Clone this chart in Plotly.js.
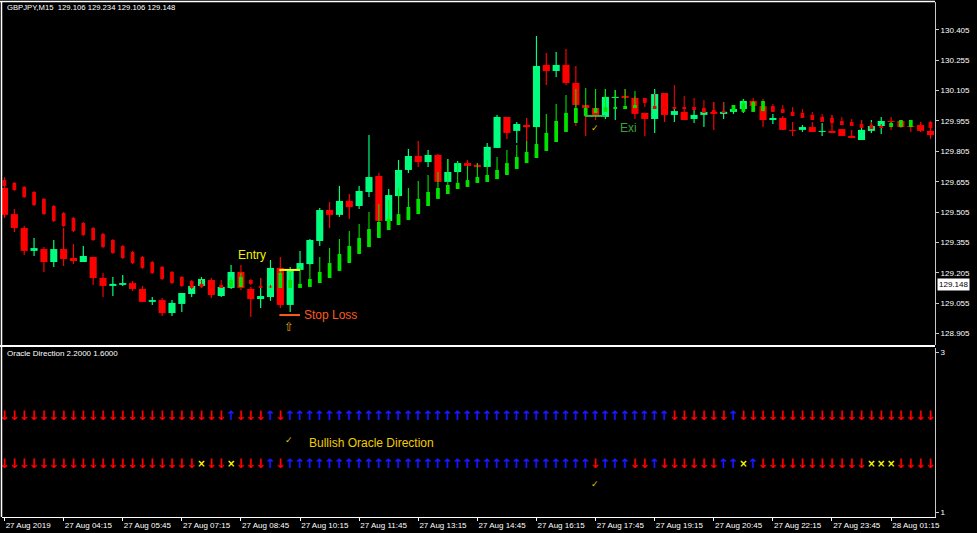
<!DOCTYPE html>
<html><head><meta charset="utf-8">
<script src="https://cdn.plot.ly/plotly-3.0.1.min.js"></script>
<style>html,body{margin:0;padding:0;background:#000;overflow:hidden}#chart{width:977px;height:533px}</style>
</head><body><div id="chart"></div>
<script>
// ---- GBPJPY M15 candles (bar index 0 = 27 Aug 02:45) ----
const open = [
129.624,129.495,129.426,129.313,129.322,129.258,129.322,129.278,129.258,129.283,
129.179,129.140,129.145,129.154,129.125,129.061,129.070,129.006,129.051,129.100,
129.140,129.169,129.090,129.130,129.209,129.125,129.075,129.085,129.229,129.046,
129.219,129.248,129.362,129.515,129.491,129.560,129.535,129.604,129.683,129.461,
129.584,129.713,129.782,129.752,129.787,129.654,129.703,129.747,129.738,129.728,
129.822,129.975,129.906,129.935,129.925,130.232,130.202,130.232,130.143,130.034,
130.019,129.975,130.069,130.079,130.069,129.995,129.965,130.093,129.985,130.000,
129.965,129.985,130.000,129.990,130.000,130.014,130.054,130.029,129.960,129.970,
129.911,129.911,129.925,129.901,129.906,129.915,129.881,129.861,129.906,129.930,
129.955,129.955,129.930,129.935,129.906];
const high = [
129.639,129.520,129.436,129.377,129.332,129.367,129.426,129.347,129.337,129.283,
129.204,129.184,129.194,129.164,129.140,129.085,129.080,129.070,129.105,129.164,
129.184,129.179,129.140,129.243,129.243,129.135,129.179,129.268,129.283,129.234,
129.313,129.372,129.525,129.555,129.634,129.594,129.634,129.886,129.698,129.619,
129.762,129.817,129.856,129.812,129.792,129.767,129.757,129.762,129.747,129.846,
129.985,129.975,129.950,129.970,130.375,130.291,130.296,130.311,130.227,130.034,
130.019,130.113,130.108,130.113,130.079,129.995,130.113,130.093,130.024,130.024,
130.019,130.014,130.049,130.049,130.029,130.064,130.069,130.064,129.990,129.980,
129.950,129.935,129.950,129.945,129.985,129.915,129.911,129.960,129.960,129.975,
129.975,129.960,129.960,129.950,129.955];
const low = [
129.476,129.407,129.293,129.288,129.209,129.234,129.238,129.248,129.258,129.145,
129.085,129.090,129.140,129.115,129.061,129.046,128.991,128.991,129.011,129.085,
129.130,129.080,129.085,129.125,129.120,128.986,129.031,129.066,129.031,129.011,
129.219,129.243,129.337,129.426,129.481,129.471,129.520,129.579,129.461,129.456,
129.579,129.698,129.728,129.728,129.654,129.654,129.698,129.713,129.723,129.728,
129.822,129.866,129.846,129.812,129.772,130.133,130.172,130.133,129.930,129.881,
129.960,129.965,129.960,130.064,129.965,129.881,129.896,129.950,129.950,129.960,
129.945,129.925,129.911,129.965,129.990,129.995,130.000,129.925,129.940,129.911,
129.881,129.901,129.901,129.881,129.896,129.881,129.871,129.861,129.896,129.891,
129.911,129.920,129.901,129.901,129.866];
const close = [
129.491,129.426,129.313,129.327,129.258,129.322,129.273,129.263,129.288,129.179,
129.140,129.150,129.154,129.125,129.061,129.070,129.006,129.056,129.105,129.140,
129.174,129.095,129.135,129.209,129.130,129.075,129.090,129.229,129.046,129.219,
129.253,129.367,129.515,129.491,129.560,129.530,129.609,129.678,129.461,129.589,
129.713,129.782,129.752,129.787,129.654,129.703,129.747,129.733,129.728,129.827,
129.975,129.896,129.940,129.925,130.227,130.202,130.232,130.143,130.034,130.019,
129.985,130.074,130.074,130.069,129.990,129.965,130.088,129.985,130.004,129.960,
129.985,130.000,129.990,130.000,130.014,130.054,130.029,129.960,129.970,129.911,
129.906,129.925,129.901,129.906,129.896,129.881,129.871,129.911,129.930,129.955,
129.950,129.925,129.925,129.906,129.886];

// ---- smoothed Heiken Ashi overlay ----
const haOpen = [
129.663,129.649,129.629,129.604,129.570,129.535,129.500,129.476,129.451,129.426,
129.397,129.367,129.337,129.308,129.283,129.258,129.234,129.209,129.184,129.164,
129.150,129.145,129.145,129.135,129.135,129.169,129.140,129.137,129.130,129.130,
129.130,129.135,129.154,129.179,129.214,129.253,129.298,129.332,129.377,129.416,
129.441,129.466,129.495,129.535,129.570,129.594,129.619,129.629,129.649,129.654,
129.668,129.688,129.718,129.747,129.772,129.807,129.851,129.901,129.945,129.980,
129.995,130.000,130.014,130.014,130.019,130.069,130.029,130.029,130.024,130.024,
130.024,130.019,130.009,130.004,130.004,130.000,130.000,130.004,130.029,130.014,
130.000,129.995,129.985,129.975,129.970,129.955,129.950,129.940,129.935,129.930,
129.925,129.925,129.925,129.935,129.950];
const haHigh = [
129.678,129.654,129.634,129.609,129.575,129.540,129.505,129.481,129.456,129.431,
129.402,129.372,129.342,129.313,129.288,129.263,129.238,129.214,129.189,129.169,
129.169,129.159,129.169,129.184,129.204,129.174,129.179,129.145,129.219,129.209,
129.234,129.243,129.283,129.327,129.372,129.411,129.446,129.505,129.545,129.565,
129.624,129.624,129.658,129.688,129.703,129.767,129.747,129.733,129.747,129.762,
129.777,129.812,129.836,129.856,129.925,129.990,130.039,130.083,130.113,130.118,
130.113,130.113,130.108,130.113,130.103,130.069,130.088,130.093,130.133,130.079,
130.069,130.059,130.049,130.049,130.034,130.059,130.054,130.054,130.039,130.034,
130.024,130.014,130.000,129.990,129.985,129.975,129.965,129.960,129.950,129.940,
129.950,129.960,129.960,129.950,129.955];
const haLow = [
129.624,129.609,129.575,129.535,129.491,129.456,129.431,129.407,129.387,129.362,
129.327,129.298,129.273,129.248,129.224,129.199,129.169,129.150,129.135,129.125,
129.130,129.125,129.130,129.135,129.135,129.145,129.130,129.130,129.130,129.130,
129.130,129.135,129.154,129.179,129.214,129.253,129.298,129.332,129.377,129.416,
129.441,129.466,129.495,129.535,129.570,129.594,129.619,129.629,129.649,129.654,
129.668,129.688,129.718,129.747,129.772,129.807,129.851,129.901,129.945,129.980,
129.995,130.000,130.014,130.014,130.019,130.024,130.014,130.014,130.014,130.014,
130.009,129.995,129.995,129.995,130.004,130.000,130.000,130.004,130.000,129.995,
129.980,129.970,129.960,129.950,129.945,129.935,129.930,129.920,129.915,129.920,
129.925,129.925,129.925,129.920,129.920];
const haClose = [
129.634,129.614,129.579,129.540,129.495,129.461,129.436,129.411,129.392,129.367,
129.332,129.303,129.278,129.253,129.229,129.204,129.174,129.154,129.140,129.130,
129.135,129.130,129.130,129.169,129.184,129.150,129.130,129.133,129.204,129.169,
129.150,129.174,129.209,129.253,129.298,129.337,129.377,129.421,129.456,129.471,
129.495,129.530,129.570,129.604,129.624,129.639,129.649,129.663,129.678,129.688,
129.713,129.747,129.777,129.802,129.841,129.896,129.955,129.995,130.019,130.019,
130.019,130.024,130.024,130.029,130.034,130.044,130.014,130.014,130.014,130.014,
130.009,129.995,129.995,129.995,130.034,130.044,130.049,130.054,130.000,129.995,
129.980,129.970,129.960,129.950,129.945,129.935,129.930,129.920,129.915,129.920,
129.945,129.960,129.960,129.920,129.920];

// ---- Oracle Direction indicator (U = up, D = down, X = neutral) ----
const oracleFast = [
'D','D','D','D','D','D','D','D','D','D',
'D','D','D','D','D','D','D','D','D','D',
'D','D','D','U','D','D','D','U','D','U',
'U','U','U','U','U','U','U','U','U','U',
'U','U','U','U','U','U','U','U','U','U',
'U','U','U','U','U','U','U','U','U','U',
'U','U','U','U','U','U','U','U','D','D',
'D','D','D','D','U','D','D','D','D','D',
'D','D','D','D','D','D','D','D','D','D',
'D','D','D','D','D'];
const oracleSlow = [
'D','D','D','D','D','D','D','D','D','D',
'D','D','D','D','D','D','D','D','D','D',
'X','D','D','X','D','D','D','U','D','U',
'U','U','U','U','U','U','U','U','U','U',
'U','U','U','U','U','U','U','U','U','U',
'U','U','U','U','U','U','U','U','U','U',
'D','U','U','U','D','D','U','D','D','D',
'D','D','D','U','U','X','U','D','D','D',
'D','D','D','D','D','D','D','D','X','X',
'X','D','D','D','D'];
const oracleLevels = [2.2, 1.6];

// ---- axis labels ----
const timeTickBars = [0,6,12,18,24,30,36,42,48,54,60,66,72,78,84,90];
const timeTickLabels = ['27 Aug 2019','27 Aug 04:15','27 Aug 05:45','27 Aug 07:15','27 Aug 08:45',
 '27 Aug 10:15','27 Aug 11:45','27 Aug 13:15','27 Aug 14:45','27 Aug 16:15','27 Aug 17:45',
 '27 Aug 19:15','27 Aug 20:45','27 Aug 22:15','27 Aug 23:45','28 Aug 01:15'];
const priceTicks = [128.905,129.055,129.205,129.355,129.505,129.655,129.805,129.955,130.105,130.255,130.405];
const lastPrice = 129.148;
const entryPrice = 129.219, stopPrice = 128.996, exitPrice = 129.980;

// ---- build ----
const idx = open.map((_, i) => i);
const MIN_BODY = 0.004;
function candleTraces(o, h, l, c, upCol, dnCol, bodyW, wickW) {
  const col = c.map((v, i) => v >= o[i] ? upCol : dnCol);
  const wick = {type:'bar', x: idx, base: l, y: h.map((v,i)=>Math.max(v-l[i],MIN_BODY)),
    width: wickW, marker:{color: col, line:{width:0}}, opacity:1, hoverinfo:'skip', xaxis:'x', yaxis:'y'};
  const body = {type:'bar', x: idx, base: o.map((v,i)=>Math.min(v,c[i])),
    y: o.map((v,i)=>Math.max(Math.abs(c[i]-v), MIN_BODY)),
    width: bodyW, marker:{color: col, line:{width:0}}, opacity:1, hoverinfo:'skip', xaxis:'x', yaxis:'y'};
  return [wick, body];
}
const glyph = {U:'↑', D:'↓', X:'×'};
const gcol = {U:'#1A1AFF', D:'#FF0000', X:'#FFFF00'};
function oracleTrace(dirs, level) {
  return {type:'scatter', mode:'text', x: idx, y: dirs.map(()=>level),
    text: dirs.map(d=>glyph[d]),
    textfont:{family:'DejaVu Sans', size: dirs.map(d=> d==='X'?10:13), color: dirs.map(d=>gcol[d]), weight: 700},
    textposition:'middle center', hoverinfo:'skip', xaxis:'x', yaxis:'y2', cliponaxis:false};
}

const data = [
  ...candleTraces(open, high, low, close, '#00FF7F', '#FF0000', 0.72, 0.12),
  ...candleTraces(haOpen, haHigh, haLow, haClose, '#00E400', '#F20000', 0.38, 0.11),
  oracleTrace(oracleFast, oracleLevels[0]),
  oracleTrace(oracleSlow, oracleLevels[1])
];

const W = 977, H = 533;
const px = v => v / W, py = v => 1 - v / H;
const F = 'Liberation Sans, Arial, sans-serif';

const layout = {
  width: W, height: H, margin:{l:0,r:0,t:0,b:0},
  paper_bgcolor:'#000', plot_bgcolor:'#000', showlegend:false, barmode:'overlay',
  font:{family:F, size:8, color:'#FFFFFF'},
  xaxis:{domain:[px(2), px(935)], range:[-0.254, 94.457], anchor:'y2', showgrid:false, zeroline:false,
    tickmode:'array', tickvals: timeTickBars, ticktext: timeTickLabels, ticks:'outside', ticklen:3,
    tickcolor:'#FFFFFF', ticklabelposition:'outside right', tickfont:{family:F,size:8,color:'#FFFFFF'},
    showline:true, linecolor:'#FFFFFF', linewidth:1.3, automargin:false, fixedrange:true},
  yaxis:{domain:[py(345), py(2)], range:[128.848, 130.543], side:'right', anchor:'x', showgrid:false, zeroline:false,
    tickmode:'array', tickvals: priceTicks, ticktext: priceTicks.map(v=>v.toFixed(3)), ticks:'outside', ticklen:3,
    tickcolor:'#C8C8C8', tickfont:{family:F,size:8,color:'#FFFFFF'}, showline:true, linecolor:'#C8C8C8', linewidth:1,
    automargin:false, fixedrange:true},
  yaxis2:{domain:[py(517), py(348)], range:[0.946, 3.05], side:'right', anchor:'x', showgrid:false, zeroline:false,
    tickmode:'array', tickvals:[1,3], ticktext:['1','3'], ticks:'outside', ticklen:3, tickcolor:'#C8C8C8',
    tickfont:{family:F,size:8,color:'#FFFFFF'}, showline:true, linecolor:'#C8C8C8', linewidth:1,
    automargin:false, fixedrange:true},
  shapes:[
    {type:'line', xref:'paper', yref:'paper', x0:0, x1:px(935), y0:py(1.5), y1:py(1.5), line:{color:'#FFFFFF', width:1.5}},
    {type:'line', xref:'paper', yref:'paper', x0:px(1.5), x1:px(1.5), y0:py(517), y1:py(1.5), line:{color:'#FFFFFF', width:1.5}},
    {type:'line', xref:'paper', yref:'paper', x0:0, x1:px(935), y0:py(346), y1:py(346), line:{color:'#FFFFFF', width:2}},
    {type:'line', xref:'x', yref:'y', x0:27.9, x1:30.0, y0:entryPrice, y1:entryPrice, line:{color:'#FFFF00', width:2}},
    {type:'line', xref:'x', yref:'y', x0:27.9, x1:30.0, y0:stopPrice, y1:stopPrice, line:{color:'#FF5A1E', width:2}},
    {type:'line', xref:'x', yref:'y', x0:58.9, x1:61.0, y0:exitPrice, y1:exitPrice, line:{color:'#3CB43C', width:2}}
  ],
  annotations:[
    {xref:'paper', yref:'paper', x:px(5), y:py(7.5), xanchor:'left', yanchor:'middle', showarrow:false,
     text:'GBPJPY,M15\u00a0\u00a0129.106 129.234 129.106 129.148', font:{family:F, size:7.7, color:'#FFFFFF'}},
    {xref:'paper', yref:'paper', x:px(5), y:py(353.5), xanchor:'left', yanchor:'middle', showarrow:false,
     text:'Oracle Direction 2.2000 1.6000', font:{family:F, size:8, color:'#FFFFFF'}},
    {xref:'paper', yref:'y', x:px(937), y:lastPrice, xanchor:'left', yanchor:'middle', showarrow:false,
     text:lastPrice.toFixed(3), bgcolor:'#FFFFFF', borderpad:1, font:{family:F, size:8, color:'#000000'}},
    {xref:'x', yref:'y', x:23.5, y:129.293, xanchor:'left', yanchor:'middle', showarrow:false,
     text:'Entry', font:{family:F, size:12, color:'#F2F200'}},
    {xref:'x', yref:'y', x:30.24, y:stopPrice, xanchor:'left', yanchor:'middle', showarrow:false,
     text:'Stop Loss', font:{family:F, size:12, color:'#FF5A1E'}},
    {xref:'x', yref:'y', x:62.24, y:129.920, xanchor:'left', yanchor:'middle', showarrow:false,
     text:'Exi', font:{family:F, size:12, color:'#3CA03C'}},
    {xref:'x', yref:'y', x:28.9, y:128.937, xanchor:'center', yanchor:'middle', showarrow:false,
     text:'⇧', font:{family:'DejaVu Sans', size:12, color:'#E8A000'}},
    {xref:'x', yref:'y', x:59.9, y:129.920, xanchor:'center', yanchor:'middle', showarrow:false,
     text:'✓', font:{family:'DejaVu Sans', size:9, color:'#E8C000'}},
    {xref:'x', yref:'y2', x:28.9, y:1.905, xanchor:'center', yanchor:'middle', showarrow:false,
     text:'✓', font:{family:'DejaVu Sans', size:9, color:'#E8C000'}},
    {xref:'x', yref:'y2', x:30.73, y:1.867, xanchor:'left', yanchor:'middle', showarrow:false,
     text:'Bullish Oracle Direction', font:{family:F, size:12, color:'#F0CC00'}},
    {xref:'x', yref:'y2', x:59.9, y:1.357, xanchor:'center', yanchor:'middle', showarrow:false,
     text:'✓', font:{family:'DejaVu Sans', size:9, color:'#E8C000'}}
  ]
};
Plotly.newPlot('chart', data, layout, {displayModeBar:false, staticPlot:true});
</script></body></html>
